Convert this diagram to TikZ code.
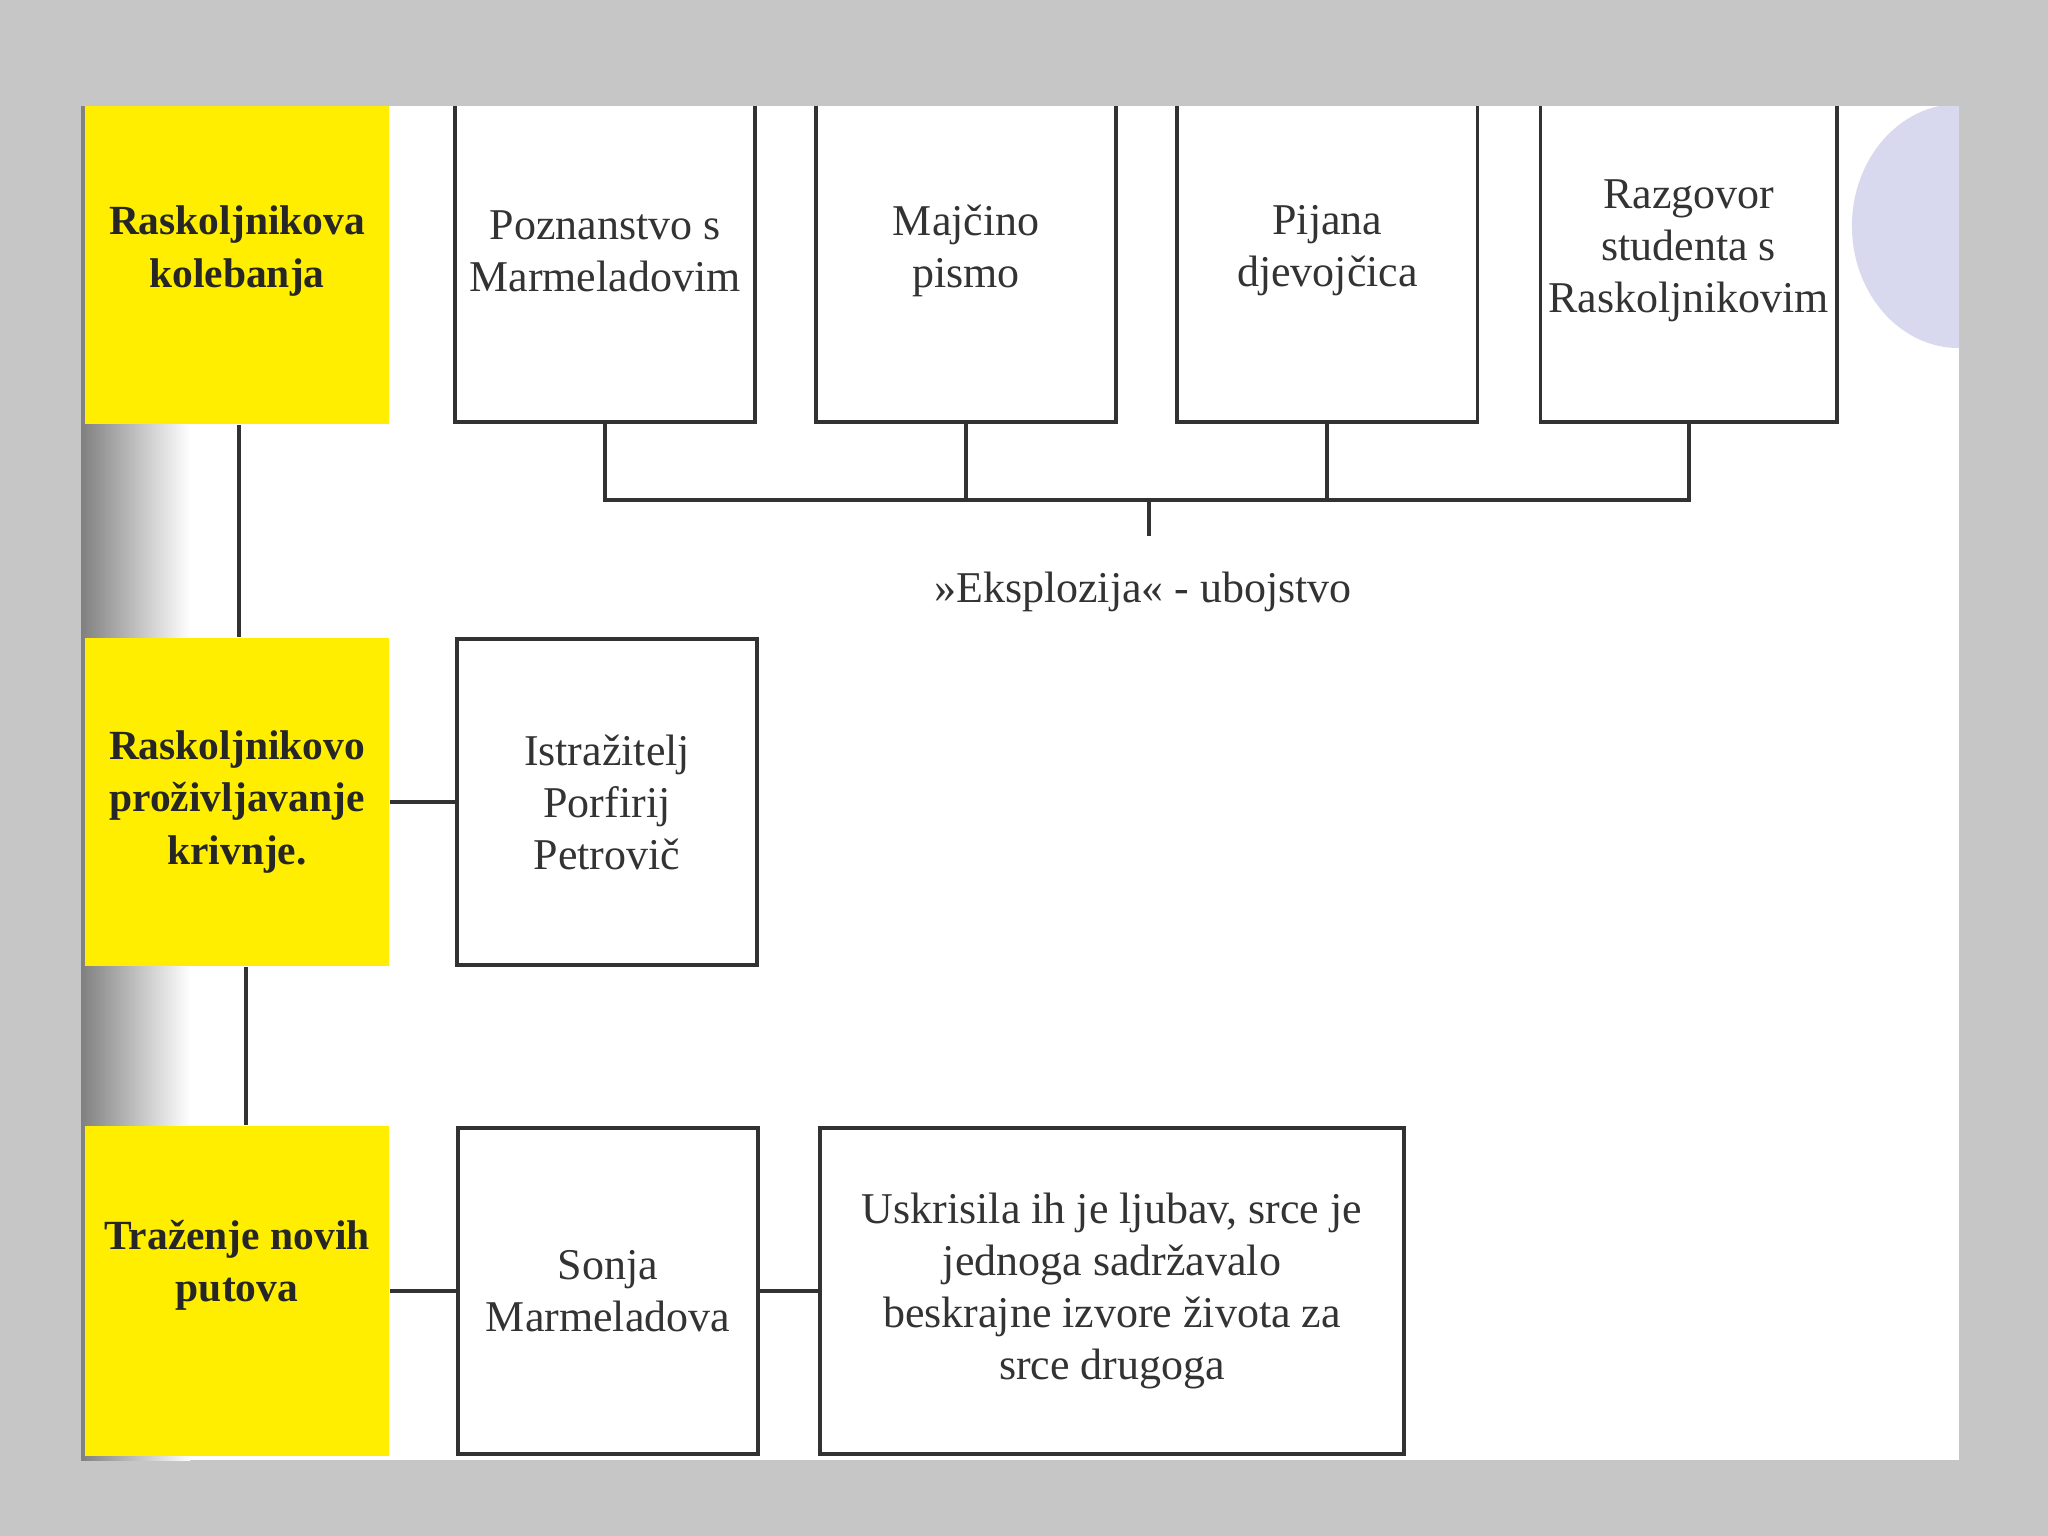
\documentclass[tikz,border=0pt]{standalone}
\usepackage{fontspec}
\setmainfont{Liberation Serif}
\usepackage{tikz}
\usetikzlibrary{positioning}
\definecolor{pagegray}{RGB}{198,198,198}
\definecolor{phaseyellow}{RGB}{255,238,0}
\definecolor{boxline}{RGB}{50,50,50}
\definecolor{circlelilac}{RGB}{216,216,238}
\tikzstyle{phase} = [rectangle, fill=phaseyellow, text=black!85, text centered, align=center, minimum width=3.04cm, font=\bfseries\fontsize{11.8pt}{14.8pt}\selectfont]
\tikzstyle{event} = [rectangle, draw=boxline, line width=1.1pt, fill=white, text=black!80, text centered, align=center, minimum width=3cm, minimum height=3.25cm, inner sep=2pt, font=\fontsize{12.5pt}{14.8pt}\selectfont]
\tikzstyle{line} = [draw, line width=1.1pt, boxline]

\begin{document}
\begin{tikzpicture}[x=0.01cm, y=-0.01cm, node distance=3.61cm]
			% Page
			\useasboundingbox (0,0) rectangle (2048,1536);
			\fill[pagegray] (0,0) rectangle (2048,1536);
			\fill[white] (81,106) rectangle (1959,1460);
			\shade[left color=black!50, right color=white] (81,106) rectangle (190,1460);
			\begin{scope}
			\clip (81,106) rectangle (1959,1460);
			\fill[circlelilac] (1959,226) ellipse (1.07cm and 1.22cm);
			% Place nodes
			\node [phase, minimum height=3.46cm] (kol) at (237,251) {Raskoljnikova\\kolebanja};
			\node [phase, minimum height=3.28cm] (kri) at (237,802) {Raskoljnikovo\\proživljavanje\\krivnje.};
			\node [phase, minimum height=3.30cm, text depth=0.6cm] (put) at (237,1291) {Traženje novih\\putova};
			\node [event, minimum height=3.42cm] (poz) at (605,251) {Poznanstvo s\\Marmeladovim};
			\node [event, minimum height=3.42cm, right of=poz] (maj) {Majčino\\pismo};
			\node [event, minimum height=3.42cm, right of=maj] (pij) {Pijana\\djevojčica};
			\node [event, minimum height=3.42cm, minimum width=2.96cm, right of=pij] (raz) {Razgovor\\studenta s\\Raskoljnikovim};
			\node [event] (ist) at (607,802) {Istražitelj\\Porfirij\\Petrovič};
			\node [event] (son) at (608,1291) {Sonja\\Marmeladova};
			\node [event, minimum width=5.84cm] (usk) at (1112,1291) {Uskrisila ih je ljubav, srce je\\jednoga sadržavalo\\beskrajne izvore života za\\srce drugoga};
			\node [text=black!80, font=\fontsize{12.5pt}{14.8pt}\selectfont] (eks) at (1143,592) {»Eksplozija« - ubojstvo};
			\coordinate (hub) at (1149,500);
			\end{scope}
			% Draw edges
			\path [line] (poz.south) |- (hub) -| (raz.south);
			\path [line] (maj.south) -- (maj.south |- hub);
			\path [line] (pij.south) -- (pij.south |- hub);
			\path [line] (hub) -- ([yshift=0.24cm]eks.north -| hub);
			\path [line] ([xshift=0.02cm]kol.south) -- ([xshift=0.02cm]kri.north);
			\path [line] ([xshift=0.09cm]kri.south) -- ([xshift=0.09cm]put.north);
			\path [line] (kri.east) -- (ist.west);
			\path [line] (put.east) -- (son.west);
			\path [line] (son.east) -- (usk.west);
\end{tikzpicture}
\end{document}
